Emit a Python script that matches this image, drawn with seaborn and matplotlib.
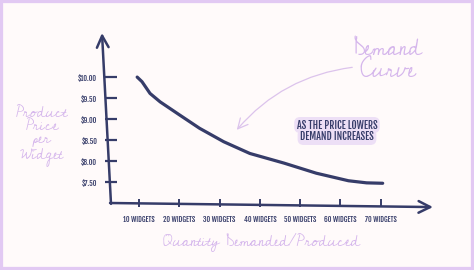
import matplotlib
matplotlib.use("Agg")
import matplotlib.pyplot as plt
from matplotlib.patches import Rectangle
import seaborn as sns
import pandas as pd

# ---- data ----
quantity = [9.5, 10.7, 12.7, 15.2, 20.0, 25.0, 31.0, 37.5, 46.0, 54.0, 62.0, 66.5, 70.5]
price = [10.00, 9.89, 9.61, 9.41, 9.10, 8.78, 8.46, 8.18, 7.95, 7.71, 7.53, 7.48, 7.47]
x_ticks = [10, 20, 30, 40, 50, 60, 70]
x_tick_labels = ["10 WIDGETS", "20 WIDGETS", "30 WIDGETS", "40 WIDGETS",
                 "50 WIDGETS", "60 WIDGETS", "70 WIDGETS"]
y_ticks = [7.5, 8.0, 8.5, 9.0, 9.5, 10.0]
y_tick_labels = ["$7.50", "$8.00", "$8.50", "$9.00", "$9.50", "$10.00"]
title_text = "Demand\nCurve"
note_lines = ["AS THE PRICE LOWERS", "DEMAND INCREASES"]
x_label = "Quantity Demanded/Produced"
y_label = "Product\nPrice\nper\nWidget"

df = pd.DataFrame({"quantity": quantity, "price": price})

sns.set_theme(style="white")
NAVY = "#363c69"
LAV = "#d5b6ec"
BG = "#fffafa"
COND = ["Fjalla One", "Oswald", "DejaVu Sans"]
SCRIPT = ["Cedarville Cursive", "DejaVu Serif"]

fig = plt.figure(figsize=(4.74, 2.70), dpi=100, facecolor=BG)
ax = fig.add_axes([111 / 474, 1 - 203 / 270, 322 / 474, 170 / 270])
ax.set_facecolor(BG)

sns.lineplot(data=df, x="quantity", y="price", ax=ax, color=NAVY,
             linewidth=2.3, solid_capstyle="round", solid_joinstyle="round")

ax.set_xlim(3, 83)
ax.set_ylim(7.0, 11.05)
for s in ax.spines.values():
    s.set_visible(False)

# hand-drawn style axes with arrows
ax.annotate("", xy=(-0.028, 1.0), xytext=(0.0, -0.005), xycoords="axes fraction",
            arrowprops=dict(arrowstyle="->,head_length=0.7,head_width=0.35",
                            color=NAVY, lw=1.8, shrinkA=0, shrinkB=0))
ax.annotate("", xy=(1.0, -0.024), xytext=(-0.003, 0.0), xycoords="axes fraction",
            arrowprops=dict(arrowstyle="->,head_length=0.7,head_width=0.35",
                            color=NAVY, lw=1.8, shrinkA=0, shrinkB=0))

ax.set_xticks(x_ticks)
ax.set_xticklabels(x_tick_labels)
ax.set_yticks(y_ticks)
ax.set_yticklabels(y_tick_labels)
ax.tick_params(axis="y", direction="inout", length=8, width=1.6, color=NAVY,
               pad=6, left=True)
ax.tick_params(axis="x", direction="inout", length=6, width=1.4, color=NAVY,
               pad=6, bottom=True)
for lab in ax.get_xticklabels() + ax.get_yticklabels():
    lab.set_family(COND)
    lab.set_fontsize(5.2)
    lab.set_color(NAVY)
ax.set_xlabel("")
ax.set_ylabel("")

# script-like labels
fig.text(261 / 474, 1 - 243 / 270, x_label, ha="center", va="center",
         family=SCRIPT, fontsize=11.2, color=LAV)
fig.text(42 / 474, 1 - 137 / 270, y_label, ha="center", va="center",
         family=SCRIPT, fontsize=11, color=LAV, linespacing=1.0)
fig.text(388 / 474, 1 - 62 / 270, title_text, ha="center", va="center",
         family=SCRIPT, fontsize=16, color=LAV, linespacing=1.0)

# note with highlighted background
for i, line in enumerate(note_lines):
    fig.text(337 / 474, 1 - (125 + 12 * i) / 270, line, ha="center", va="center",
             family=COND, fontsize=7.2, color=NAVY,
             bbox=dict(boxstyle="round,pad=0.25,rounding_size=0.6",
                       fc="#eddff6", ec="none"))

# curved pointer arrow
ax.annotate("", xy=(235 / 474, 1 - 132 / 270), xytext=(355 / 474, 1 - 67 / 270),
            xycoords="figure fraction", textcoords="figure fraction",
            arrowprops=dict(arrowstyle="->,head_length=0.6,head_width=0.3",
                            color="#dcc3ec", lw=0.9,
                            connectionstyle="arc3,rad=0.2"))

# lavender frame
fig.patches.append(Rectangle((0, 0), 1, 1, transform=fig.transFigure, fill=False,
                             edgecolor="#e2c9f3", lw=4.5, zorder=10))

fig.savefig("out.png", dpi=100, facecolor=BG)
